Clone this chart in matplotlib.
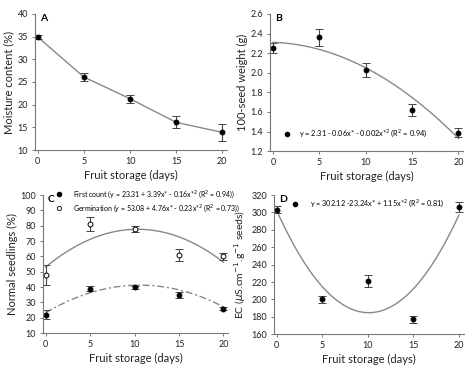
import numpy as np
import matplotlib.pyplot as plt

plt.rcParams['font.family'] = ['Lato', 'DejaVu Sans']

# storage days
days = [0, 5, 10, 15, 20]

# A - moisture content
moist = [34.9, 26.1, 21.3, 16.1, 13.9]
moist_err = [0.5, 0.8, 0.9, 1.3, 1.9]

# B - 100-seed weight
weight = [2.25, 2.36, 2.03, 1.62, 1.39]
weight_err = [0.05, 0.09, 0.07, 0.06, 0.05]
weight_fit = [2.31, -0.003, -0.0023]   # curve as drawn

# C - normal seedlings
first = [22, 39, 40, 35, 26]
first_err = [3, 1.5, 1, 2, 1]
first_fit = [23.31, 3.39, -0.16]
germ = [48, 81, 78, 61, 60]
germ_err = [6.5, 4.5, 2, 4, 2.5]
germ_fit = [53.08, 4.76, -0.23]

# D - electrical conductivity
ec = [303, 200, 221, 177, 306]
ec_err = [4, 4, 7, 4, 6]
ec_fit = [302.12, -23.24, 1.15]

xs = np.linspace(0, 20, 200)


def quad(c, x):
    return c[0] + c[1] * x + c[2] * x ** 2


def style(ax, ylim, yticks, letter, ylabel, fmt=None, ylsize=8):
    ax.set_xlim(-0.3, 20.5)
    ax.set_ylim(*ylim)
    ax.set_xticks(days)
    ax.set_yticks(yticks)
    if fmt:
        ax.set_yticklabels([fmt.format(v) for v in yticks])
    for s in ['top', 'right']:
        ax.spines[s].set_visible(False)
    for s in ['left', 'bottom']:
        ax.spines[s].set_color('#777777')
        ax.spines[s].set_linewidth(0.8)
    ax.tick_params(direction='out', length=2.5, width=0.7, colors='#777777',
                   labelcolor='#222222', labelsize=6.5, pad=2.5)
    ax.set_xlabel('Fruit storage (days)', fontsize=8, color='#222222', labelpad=3)
    ax.set_ylabel(ylabel, fontsize=ylsize, color='#222222', labelpad=2)
    ax.text(0.025, 1.0, letter, transform=ax.transAxes, fontsize=7.5,
            fontweight='bold', va='top', ha='left')


def points(ax, y, err, face='black'):
    ax.errorbar(days, y, yerr=err, fmt='o', ms=3.5, mfc=face, mec='black',
                mew=0.7, ecolor='#444444', elinewidth=0.8, capsize=3, capthick=0.8)


fig = plt.figure(figsize=(4.74, 3.66), dpi=100)

# A
axA = fig.add_axes([0.0738, 0.590, 0.405, 0.372])
axA.plot(days, moist, color='#888888', lw=1.0)
points(axA, moist, moist_err)
style(axA, (10, 40), [10, 15, 20, 25, 30, 35, 40], 'A', 'Moisture content (%)')

# B
axB = fig.add_axes([0.570, 0.587, 0.407, 0.375])
axB.plot(xs, quad(weight_fit, xs), color='#888888', lw=1.0)
points(axB, weight, weight_err)
style(axB, (1.2, 2.6), [1.2, 1.4, 1.6, 1.8, 2.0, 2.2, 2.4, 2.6], 'B',
      '100-seed weight (g)', '{:.1f}')
axB.plot([1.5], [1.38], 'o', color='black', ms=3)
axB.text(2.8, 1.38, 'y = 2.31 - 0.06x* - 0.002x*$^2$ (R$^2$ = 0.94)',
         fontsize=5.3, va='center')

# C
axC = fig.add_axes([0.0907, 0.090, 0.390, 0.377])
axC.plot(xs, quad(germ_fit, xs), color='#888888', lw=1.0)
axC.plot(xs, quad(first_fit, xs), color='#888888', lw=1.0,
         ls=(0, (5, 2, 1.5, 2)))
points(axC, germ, germ_err, face='white')
points(axC, first, first_err)
style(axC, (10, 100), [10, 20, 30, 40, 50, 60, 70, 80, 90, 100], 'C',
      'Normal seedlings (%)')
axC.plot([1.55], [100.5], 'o', color='black', ms=3, clip_on=False)
axC.plot([1.55], [91.5], 'o', mfc='white', mec='black', mew=0.6, ms=3, clip_on=False)
axC.text(3.1, 100.5, 'First count (y = 23.31 + 3.39x* - 0.16x*$^2$ (R$^2$ = 0.94))',
         fontsize=5.0, va='center')
axC.text(3.1, 91.5, 'Germination (y = 53.08 + 4.76x* - 0.23x*$^2$ (R$^2$ = 0.73))',
         fontsize=5.0, va='center')

# D
axD = fig.add_axes([0.578, 0.087, 0.400, 0.380])
axD.plot(xs, quad(ec_fit, xs), color='#888888', lw=1.0)
points(axD, ec, ec_err)
style(axD, (160, 320), [160, 180, 200, 220, 240, 260, 280, 300, 320], 'D',
      r'EC ($\mu$S.cm$^{-1}$.g$^{-1}$ seeds)', ylsize=7.5)
axD.plot([2.0], [310], 'o', color='black', ms=3)
axD.text(3.6, 310, 'y = 302.12 -23.24x* + 1.15x*$^2$ (R$^2$ = 0.81)',
         fontsize=5.2, va='center')

fig.savefig('out.png', dpi=100)
